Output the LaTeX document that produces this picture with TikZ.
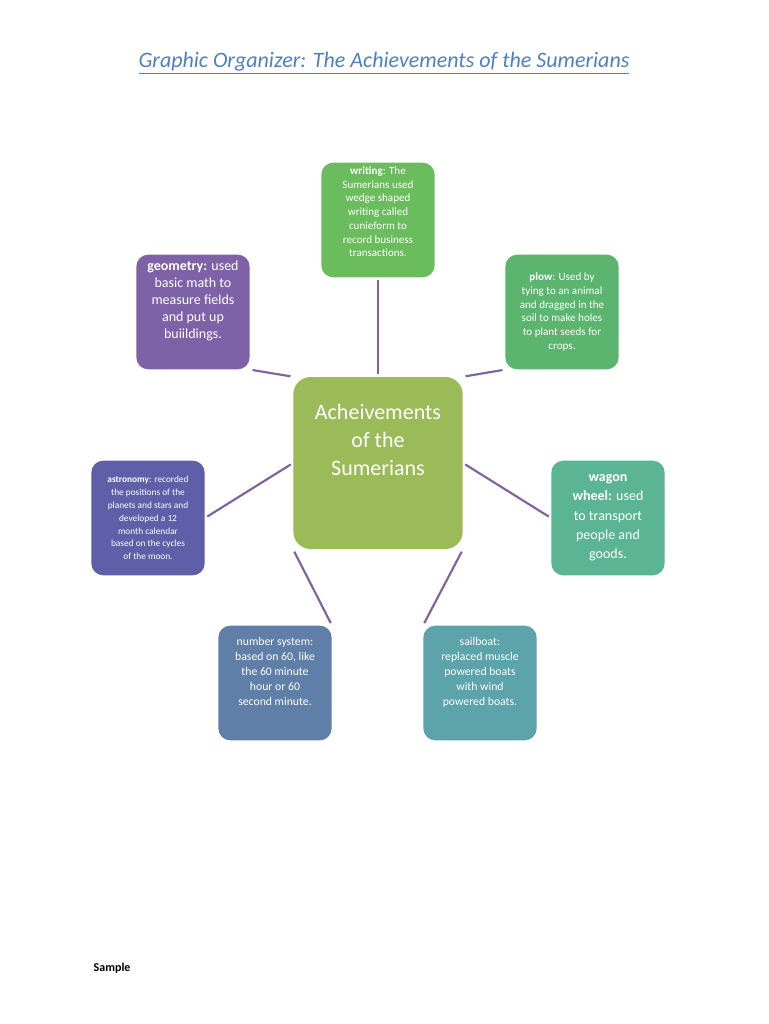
\documentclass[tikz,border=0pt]{standalone}
\usepackage{fontspec}
\setmainfont{Carlito}
\begin{document}
\begin{tikzpicture}[x=0.75pt,y=-0.75pt,
  box/.style={rounded corners=9pt,minimum width=85pt,minimum height=86pt,text=white,align=center,inner sep=2pt,font=\fontsize{8.3}{10.3}\selectfont},
  link/.style={draw=lnk,line width=1.6pt,shorten <=2pt,shorten >=2pt}]
\definecolor{lnk}{HTML}{7F63A0}
\definecolor{cwri}{HTML}{6BBC5C}
\definecolor{cplo}{HTML}{5CB56E}
\definecolor{cwag}{HTML}{5BB594}
\definecolor{csai}{HTML}{5CA3AA}
\definecolor{cnum}{HTML}{5F7FA8}
\definecolor{cast}{HTML}{5E5FA8}
\definecolor{cgeo}{HTML}{7E62A8}
\definecolor{ccen}{HTML}{9BBB59}
\definecolor{ttl}{HTML}{4F81BD}
\useasboundingbox[fill=white] (0,0) rectangle (768,1024);
\node (title) at (384,63) {\fontsize{16.5}{20}\selectfont\itshape\color{ttl}\underline{Graphic Organizer: The Achievements of the Sumerians}};
\node[box,fill=ccen,minimum width=127pt,minimum height=129pt,rounded corners=13pt,font=\fontsize{16.5}{21}\selectfont] (cen) at (378,463) {Acheivements\\of the\\Sumerians\\[14pt]};
\node[box,fill=cwri] (wri) at (378,220) {\textbf{writing}: The\\Sumerians used\\wedge shaped\\writing called\\cunieform to\\record business\\transactions.\\[2pt]};
\node[box,fill=cplo] (plo) at (562,312) {\textbf{plow}: Used by\\tying to an animal\\and dragged in the\\soil to make holes\\to plant seeds for\\crops.};
\node[box,fill=cgeo,font=\fontsize{10.5}{12.8}\selectfont] (geo) at (193,312) {\textbf{geometry:} used\\basic math to\\measure fields\\and put up\\buiildings.\\[6pt]};
\node[box,fill=cast,font=\fontsize{7}{9.6}\selectfont] (ast) at (148,518) {\textbf{astronomy}: recorded\\the positions of the\\planets and stars and\\developed a 12\\month calendar\\based on the cycles\\of the moon.};
\node[box,fill=cwag,font=\fontsize{10.5}{14.5}\selectfont] (wag) at (608,518) {\textbf{wagon}\\\textbf{wheel:} used\\to transport\\people and\\goods.};
\node[box,fill=cnum,font=\fontsize{8.8}{11.2}\selectfont] (num) at (275,683) {number system:\\based on 60, like\\the 60 minute\\hour or 60\\second minute.\\[6pt]};
\node[box,fill=csai,font=\fontsize{8.8}{11.2}\selectfont] (sai) at (480,683) {sailboat:\\replaced muscle\\powered boats\\with wind\\powered boats.\\[6pt]};
\node[anchor=west,font=\fontsize{9}{11}\selectfont\bfseries] (smp) at (89,968) {Sample};
\draw[link] (wri) -- (cen);
\draw[link] (geo.south east) -- (cen.north west);
\draw[link] (plo.south west) -- (cen.north east);
\draw[link] (ast.east) -- (cen.west);
\draw[link] (wag.west) -- (cen.east);
\draw[link] (num.north east) -- (cen.south west);
\draw[link] (sai.north west) -- (cen.south east);
\end{tikzpicture}
\end{document}
